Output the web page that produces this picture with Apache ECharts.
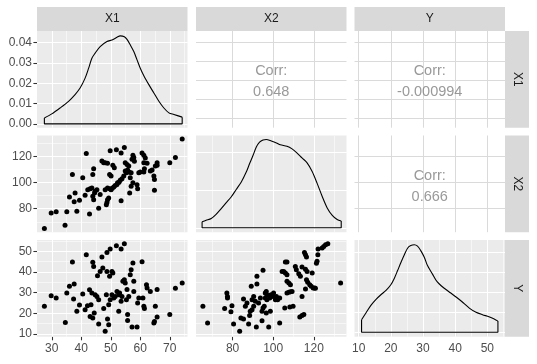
<!DOCTYPE html>
<html><head><meta charset="utf-8">
<script src="https://cdn.jsdelivr.net/npm/echarts@6/dist/echarts.min.js"></script>
<style>html,body{margin:0;padding:0;background:#fff}#c{width:537px;height:364px}</style>
</head><body><div id="c"></div>
<script>
// ---------- data ----------
const varNames = ['X1', 'X2', 'Y'];
const x1Ticks = [30, 40, 50, 60, 70];
const x2Ticks = [80, 100, 120];
const yTicks = [10, 20, 30, 40, 50];
const densTicks = [0, 0.01, 0.02, 0.03, 0.04];
const x2DensGrid = [0, 0.005, 0.01, 0.015, 0.02];
const corrValues = ['0.648', '-0.000994', '0.666'];

const x1x2Points = [[27.5,64.9],[29.8,76.8],[31.5,77.6],[34.5,67.3],[35.1,77.6],[36.0,89.0],[37.0,106.3],[37.6,85.3],[37.9,92.1],[38.5,78.1],[39.4,86.4],[40.5,103.7],[41.7,122.3],[41.3,90.3],[42.8,76.0],[42.2,94.6],[43.0,95.2],[43.6,95.9],[43.9,89.5],[44.2,86.9],[43.9,106.3],[44.2,110.7],[44.5,92.1],[44.7,93.4],[45.3,94.6],[45.9,80.4],[46.4,90.8],[47.0,116.6],[47.6,115.3],[48.1,94.6],[48.5,83.0],[48.7,84.8],[48.9,86.9],[49.3,88.2],[48.9,95.9],[49.6,95.2],[50.1,94.6],[50.5,95.7],[51.0,96.7],[51.5,97.7],[52.1,98.5],[52.3,99.8],[52.8,100.3],[53.2,101.9],[53.8,102.9],[54.4,105.0],[49.8,124.4],[51.9,125.2],[53.5,122.6],[54.6,127.0],[48.1,115.3],[48.9,114.8],[49.6,106.3],[50.1,105.0],[50.7,113.3],[51.2,111.4],[53.5,86.1],[54.9,108.9],[55.3,107.6],[55.7,109.6],[56.2,108.1],[56.9,107.6],[56.6,103.7],[54.9,115.3],[55.5,113.8],[56.1,112.7],[57.2,117.9],[57.8,119.2],[57.5,121.0],[58.0,116.3],[57.5,99.8],[56.9,97.2],[56.4,92.1],[58.9,98.3],[59.1,95.2],[59.5,107.6],[60.0,108.1],[60.6,122.6],[61.2,121.0],[61.7,118.9],[61.2,115.3],[61.4,110.7],[61.2,108.1],[62.3,114.8],[63.4,108.9],[64.0,109.6],[64.6,105.0],[64.8,102.4],[64.8,94.1],[65.1,112.7],[65.7,115.3],[65.7,113.3],[70.0,115.3],[71.9,119.2],[74.2,133.4]];

const x1yPoints = [[27.5,23.4],[29.8,28.5],[31.5,27.4],[34.6,15.6],[35.1,29.8],[36.0,33.1],[37.0,44.8],[37.6,34.2],[37.4,26.9],[38.5,21.0],[39.4,24.0],[40.5,29.4],[41.7,48.4],[41.3,21.8],[42.1,23.7],[42.8,31.4],[43.0,18.5],[43.6,29.8],[43.9,44.7],[44.2,42.7],[43.3,24.2],[43.9,17.7],[44.4,20.2],[44.7,29.0],[45.3,28.2],[45.5,38.2],[45.9,26.6],[45.9,14.8],[46.4,40.3],[47.0,47.3],[47.3,41.9],[47.6,22.4],[48.1,11.3],[48.5,29.0],[48.7,49.5],[48.7,40.3],[48.9,17.3],[49.3,14.5],[49.3,24.2],[49.6,37.9],[49.8,51.1],[49.8,26.6],[50.4,29.0],[50.4,40.3],[50.7,39.5],[51.0,27.4],[51.5,28.2],[51.9,52.7],[52.1,30.6],[52.7,29.0],[52.7,21.0],[53.0,29.8],[53.5,51.1],[53.5,25.8],[53.8,28.2],[54.1,35.5],[54.6,53.7],[54.6,36.3],[54.9,34.7],[55.3,26.6],[55.5,31.5],[55.7,19.4],[55.7,16.6],[56.1,28.2],[56.6,38.7],[56.9,41.1],[57.2,13.4],[57.5,44.4],[57.8,35.5],[57.8,30.6],[58.9,13.4],[59.1,25.0],[59.5,27.4],[60.6,45.0],[60.9,27.4],[61.2,23.4],[61.4,22.4],[62.1,33.9],[62.3,32.3],[63.4,30.6],[64.6,15.3],[64.8,16.1],[65.1,23.4],[65.7,31.5],[65.7,18.2],[70.0,19.4],[71.9,32.1],[74.2,34.7]];

const x2yPoints = [[65.4,23.4],[67.7,15.3],[76.1,22.4],[77.2,29.8],[77.5,28.2],[77.5,27.4],[79.2,20.8],[79.7,23.7],[80.5,14.8],[83.5,11.3],[84.1,17.7],[85.4,17.3],[85.4,26.9],[86.3,23.4],[87.1,25.0],[87.9,14.8],[88.4,18.9],[89.2,33.1],[88.7,21.0],[89.6,21.8],[90.4,23.4],[89.6,26.6],[90.4,28.2],[91.2,25.8],[92.0,37.9],[92.0,34.2],[91.7,13.4],[92.8,25.0],[93.7,27.4],[94.5,16.4],[94.5,21.0],[95.0,40.8],[95.0,22.6],[95.6,23.4],[96.1,29.8],[96.6,30.6],[96.9,29.0],[96.1,27.4],[96.9,26.6],[96.6,20.2],[97.8,13.4],[98.3,27.4],[98.9,29.0],[99.9,28.2],[100.2,29.8],[98.6,21.0],[101.1,26.6],[102.2,26.6],[103.2,27.4],[101.6,28.2],[103.2,15.3],[104.4,40.3],[105.2,40.3],[105.7,22.6],[106.0,44.8],[106.8,44.8],[106.0,39.5],[106.8,38.7],[106.8,35.5],[107.7,34.7],[108.5,33.9],[106.8,29.8],[107.7,30.2],[108.5,30.5],[109.3,30.6],[108.2,23.1],[109.8,23.4],[110.9,42.7],[111.4,41.1],[112.6,39.2],[113.4,37.9],[113.1,18.2],[114.2,18.9],[115.1,19.4],[114.2,28.2],[114.2,42.4],[115.9,41.4],[116.7,40.3],[115.4,49.5],[115.9,48.4],[116.4,47.3],[115.9,31.8],[116.4,36.3],[117.0,35.0],[118.0,33.9],[118.7,33.1],[119.7,32.3],[120.3,32.3],[120.8,32.1],[119.2,39.5],[121.3,44.3],[121.6,45.2],[122.0,48.4],[122.1,51.1],[124.1,51.6],[124.9,52.4],[125.8,53.2],[126.9,53.7],[133.2,34.7]];

const x1DensX = [27.5,30.0,32.8,35.7,37.9,39.6,41.3,42.5,43.6,44.7,46.4,48.7,50.4,52.1,53.2,54.6,55.5,56.6,57.8,58.9,60.0,61.2,62.9,64.6,66.3,68.0,69.7,71.4,74.2];
const x1DensY = [0.0029,0.0049,0.0078,0.0111,0.0144,0.0176,0.0225,0.0274,0.0323,0.0348,0.0380,0.0405,0.0413,0.0426,0.0433,0.0429,0.0416,0.0389,0.0356,0.0315,0.0274,0.0237,0.0193,0.0152,0.0111,0.0078,0.0054,0.0046,0.0033];

const x2DensX = [65.0,67.0,69.5,71.9,74.4,76.9,79.3,81.8,84.3,86.8,88.4,90.1,91.7,93.3,95.0,96.6,99.1,101.6,103.5,106.8,109.3,111.8,114.2,116.7,119.2,121.6,124.1,126.6,129.1,131.5,133.5];
const x2DensY = [0.0016,0.0020,0.0025,0.0036,0.0051,0.0067,0.0082,0.0102,0.0122,0.0149,0.0171,0.0193,0.0215,0.0228,0.0234,0.0235,0.0231,0.0226,0.0221,0.0217,0.0210,0.0199,0.0186,0.0173,0.0150,0.0119,0.0084,0.0053,0.0033,0.0022,0.0018];

const yDensX = [10.9,12.3,13.8,15.4,16.9,18.5,20.0,21.1,22.1,23.1,24.2,25.2,26.2,27.3,28.3,29.3,30.4,31.4,33.0,34.0,35.0,36.5,38.5,40.5,42.5,44.5,46.5,48.5,50.5,52.0,53.3];
const yDensY = [0.0063,0.0098,0.0135,0.0165,0.0188,0.0210,0.0238,0.0271,0.0309,0.0348,0.0388,0.0421,0.0434,0.0438,0.0431,0.0409,0.0376,0.0334,0.0290,0.0262,0.0243,0.0222,0.0198,0.0174,0.0148,0.0120,0.0100,0.0088,0.0078,0.0068,0.0056];

// ---------- layout / style ----------
const FONT = '"Liberation Sans", Arial, sans-serif';
const colLeft = [37, 196, 354.5], colW = 150.5;
const rowTop = [31, 135.5, 240], rowH = 96.7;
const varRange = [[25.0, 76.0], [62.0, 136.1], [8.7, 55.5]];
const densRange = [[-0.0019, 0.0457], [-0.00117, 0.02457], [-0.0022, 0.0462]];
const varMajor = [x1Ticks, x2Ticks, yTicks];
const densMajor = [densTicks, x2DensGrid, densTicks];
const densData = [[x1DensX, x1DensY], [x2DensX, x2DensY], [yDensX, yDensY]];
const scatterData = {'1_0': x1x2Points, '2_0': x1yPoints, '2_1': x2yPoints};

function minors(major, range) {
  const step = major[1] - major[0], out = [];
  const vals = [major[0] - step / 2];
  for (let i = 0; i < major.length - 1; i++) vals.push((major[i] + major[i + 1]) / 2);
  vals.push(major[major.length - 1] + step / 2);
  vals.forEach(v => { if (v > range[0] && v < range[1]) out.push(v); });
  return out;
}

const grids = [], xAxes = [], yAxes = [], series = [];
for (let r = 0; r < 3; r++) {
  for (let c = 0; c < 3; c++) {
    const g = r * 3 + c;
    const upper = c > r, diag = c === r;
    grids.push({left: colLeft[c], top: rowTop[r], width: colW, height: rowH, show: true,
      backgroundColor: upper ? '#FFFFFF' : '#EBEBEB', borderWidth: 0, containLabel: false, outerBoundsMode: 'none'});
    const xr = varRange[c];
    const yr = diag ? densRange[r] : varRange[r];
    const xMaj = varMajor[c];
    const yMaj = diag ? densMajor[r] : varMajor[r];
    const showX = r === 2, showY = c === 0;
    const yLabVals = r === 0 ? densTicks : varMajor[r];
    xAxes.push({type: 'value', gridIndex: g, min: xr[0], max: xr[1], show: showX,
      axisLine: {show: false}, splitLine: {show: false},
      axisTick: {show: showX, customValues: xMaj, length: 3.6, lineStyle: {color: '#333333', width: 1.07}},
      axisLabel: {show: showX, customValues: xMaj, margin: 6, color: '#4D4D4D', fontSize: 12, fontFamily: FONT}});
    yAxes.push({type: 'value', gridIndex: g, min: yr[0], max: yr[1], show: showY,
      axisLine: {show: false}, splitLine: {show: false},
      axisTick: {show: showY, customValues: yLabVals, length: 3.6, lineStyle: {color: '#333333', width: 1.07}},
      axisLabel: {show: showY, customValues: yLabVals, margin: 5, color: '#4D4D4D', fontSize: 12, fontFamily: FONT,
        formatter: r === 0 ? (v => Number(v).toFixed(2)) : (v => String(Math.round(v)))}});
    const ml = [];
    const majCol = upper ? '#DADADA' : '#FFFFFF';
    if (!upper) {
      minors(xMaj, xr).forEach(v => ml.push({xAxis: v, lineStyle: {color: '#FFFFFF', width: 0.55, type: 'solid'}}));
      minors(yMaj, yr).forEach(v => ml.push({yAxis: v, lineStyle: {color: '#FFFFFF', width: 0.55, type: 'solid'}}));
    }
    xMaj.forEach(v => ml.push({xAxis: v, lineStyle: {color: majCol, width: upper ? 1 : 1.07, type: 'solid'}}));
    yMaj.forEach(v => ml.push({yAxis: v, lineStyle: {color: majCol, width: upper ? 1 : 1.07, type: 'solid'}}));
    series.push({type: 'line', xAxisIndex: g, yAxisIndex: g, data: [], z: 1, silent: true,
      markLine: {silent: true, z: 1, symbol: ['none', 'none'], label: {show: false}, animation: false,
        emphasis: {disabled: true}, data: ml}});
    if (diag) {
      const [dx, dy] = densData[r];
      const curve = dx.map((v, i) => [v, dy[i]]);
      const n = dx.length - 1;
      series.push({type: 'line', xAxisIndex: g, yAxisIndex: g, data: curve, smooth: 0.3, showSymbol: false,
        z: 10, silent: true, lineStyle: {color: '#000', width: 1.1}});
      series.push({type: 'line', xAxisIndex: g, yAxisIndex: g, showSymbol: false, z: 10, silent: true,
        data: [[dx[n], dy[n]], [dx[n], 0], [dx[0], 0], [dx[0], dy[0]]], lineStyle: {color: '#000', width: 1.1}});
    } else if (upper) {
      const idx = r === 0 ? (c === 1 ? 0 : 1) : 2;
      series.push({type: 'scatter', xAxisIndex: g, yAxisIndex: g, z: 10, silent: true,
        data: [[(xr[0] + xr[1]) / 2, (yr[0] + yr[1]) / 2]], symbolSize: 1, itemStyle: {color: 'rgba(0,0,0,0)'},
        label: {show: true, position: 'inside', offset: [0, 2.5], formatter: 'Corr:\n' + corrValues[idx],
          color: '#808080', fontSize: 14.5, lineHeight: 21, fontFamily: FONT}});
    } else {
      series.push({type: 'scatter', xAxisIndex: g, yAxisIndex: g, z: 10, silent: true,
        data: scatterData[r + '_' + c], symbolSize: 5, itemStyle: {color: '#000', opacity: 1}});
    }
  }
}

const graphics = [];
for (let i = 0; i < 3; i++) {
  graphics.push({type: 'rect', shape: {x: colLeft[i], y: 7, width: colW, height: 24}, style: {fill: '#D9D9D9'}, silent: true});
  graphics.push({type: 'text', x: colLeft[i] + colW / 2, y: 19, silent: true,
    style: {text: varNames[i], fill: '#1A1A1A', fontSize: 12, fontFamily: FONT, textAlign: 'center', textVerticalAlign: 'middle'}});
  graphics.push({type: 'rect', shape: {x: 505, y: rowTop[i], width: 24, height: rowH}, style: {fill: '#D9D9D9'}, silent: true});
  graphics.push({type: 'text', x: 517, y: rowTop[i] + rowH / 2, rotation: -Math.PI / 2, silent: true,
    style: {text: varNames[i], fill: '#1A1A1A', fontSize: 12, fontFamily: FONT, textAlign: 'center', textVerticalAlign: 'middle'}});
}

const chart = echarts.init(document.getElementById('c'), null, {renderer: 'canvas'});
chart.setOption({animation: false, backgroundColor: '#FFFFFF', grid: grids, xAxis: xAxes, yAxis: yAxes,
  series: series, graphic: graphics});
</script></body></html>
